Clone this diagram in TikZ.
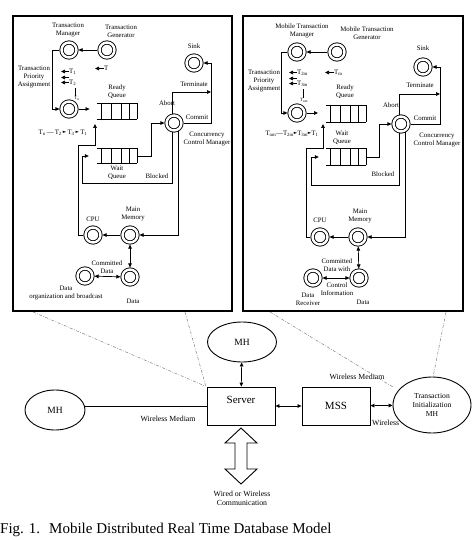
\documentclass[tikz,border=0pt]{standalone}
\usepackage{fontspec}
\setmainfont{Liberation Serif}
\newfontfamily\dvs{DejaVu Sans}
\usetikzlibrary{arrows.meta,calc,shapes.geometric}
\newcommand\mytri{{\dvs\fontsize{4.5}{5}\selectfont\raisebox{0.3pt}{►}}}
\newcommand\qlines[1]{%
  \draw[qline] (#1.north west) -- (#1.north east) -- (#1.south east);
  \draw[qline] (#1.south west) -- (#1.south east);
  \foreach \f in {0.12,0.36,0.6,0.8}{\draw[qline] ($(#1.north west)!\f!(#1.north east)$) -- ($(#1.south west)!\f!(#1.south east)$);}
}
\begin{document}
\begin{tikzpicture}[x=1pt,y=-1pt,
  lbl/.style={font=\fontsize{6.8}{7.8}\selectfont, align=center, inner sep=0},
  tiny/.style={font=\fontsize{4.8}{5}\selectfont, inner sep=0},
  dc/.style={circle, draw, line width=0.9pt, double, double distance=2.4pt, minimum size=15pt, inner sep=0, outer sep=2.1pt},
  qbox/.style={minimum width=40pt, minimum height=15pt, inner sep=0},
  qline/.style={line width=1pt},
  tip/.style={-{Triangle[length=4pt,width=3.6pt]}},
  dtip/.style={{Triangle[length=4pt,width=3.6pt]}-{Triangle[length=4pt,width=3.6pt]}},
  conn/.style={line width=0.7pt, tip},
  panel/.style={draw, line width=1.1pt},
  gline/.style={draw=gray, line width=0.5pt, dash pattern=on 3pt off 1.5pt on 0.7pt off 1.5pt},
  net/.style={font=\fontsize{7.8}{9}\selectfont, inner sep=0, align=center}]
\useasboundingbox (0,0) rectangle (474,540);

% ---------- panels ----------
\draw[panel] (13,16) rectangle (232,311);
\draw[panel] (243,16) rectangle (463,311);

% ================= LEFT PANEL =================
\node[dc] (tm) at (69,50) {};
\node[dc] (tg) at (107,50) {};
\node[dc] (tpa) at (69,109) {};
\node[dc] (ccm) at (174,123) {};
\node[dc] (sink) at (194,63) {};
\node[dc] (cpu) at (93,235) {};
\node[dc] (mm) at (130,235) {};
\node[dc] (data) at (130,277) {};
\node[dc] (dorg) at (85,276) {};
\node[qbox] (rq) at (117,111.5) {};
\node[qbox, minimum height=14pt] (wq) at (117,156) {};
\qlines{rq}
\qlines{wq}

\node[lbl] at (68,30) {Transaction\\Manager};
\node[lbl] at (121,31) {Transaction\\Generator};
\node[lbl] at (34,77) {Transaction\\Priority\\Assignment};
\node[lbl, anchor=west] (t1) at (69,71.5) {T\textsubscript{1}};
\node[lbl, anchor=west] (tx) at (69,76.5) {};
\node[lbl, anchor=west] (t2) at (69,82.5) {T\textsubscript{2}};
\node[lbl, anchor=west] (tt) at (104,68.5) {T};
\node[tiny] (tn) at (77,98) {T\textsubscript{n}};
\node[lbl] at (117,92) {Ready\\Queue};
\node[lbl] at (117,173) {Wait\\Queue};
\node[lbl] at (157,176.5) {Blocked};
\node[lbl] at (167,103) {Abort};
\node[lbl] at (197,117) {Commit};
\node[lbl] at (194,84) {Terminate};
\node[lbl] at (194,46) {Sink};
\node[lbl] at (207,139) {Concurrency\\Control Manager};
\node[lbl] at (93,219) {CPU};
\node[lbl] at (133,214) {Main\\Memory};
\node[lbl] at (107,267) {Committed\\Data};
\node[lbl] at (66,293) {Data\\organization and broadcast};
\node[lbl] at (133,301) {Data};
\node[lbl] at (63,132.5) {T\textsubscript{n}\,---\,T\textsubscript{2}\,\mytri\,T\textsubscript{3}\,\mytri\,T\textsubscript{1}};

\coordinate (rqin) at (95,124);
\coordinate (abortL) at (211,92);
\draw[conn] (tg) -- (tm);
\draw[conn] (tm.west) -- ++(-7,0) |- (tpa.west);
\draw[conn] (tpa.east) -- ++(11,0);
\draw[conn] (t1.west) -- ++(-8,0);
\draw[conn] ([yshift=-1]tx.west) -- ++(-8,0);
\draw[conn] (t2.west) -- ++(-8,0);
\draw[conn] (tt.west) -- ++(-9,0);
\draw[line width=0.6pt] ([xshift=-2]tn.north) -- ++(0,-8);
\draw[conn] (cpu.west) -- (78,235) -- (78,145) -- (95,145) -- (rqin);
\draw[conn] (wq.east) -- (151,156) |- (ccm.west);
\draw[conn] (ccm.-100) -- (ccm.-100 |- 0,183) -| (82,156) -- ([xshift=-8]wq.west);
\draw[conn] (ccm.-60) |- (mm.east);
\draw[conn] (mm) -- (cpu);
\draw[line width=0.7pt, dtip] (mm) -- (data);
\draw[line width=0.7pt, dtip] (dorg) -- (data);
\draw[conn] (ccm.100) |- (abortL);
\draw[conn] (ccm.east) -- (211,123) |- (sink.east);

% ================= RIGHT PANEL =================
\node[dc] (mtm) at (297,52) {};
\node[dc] (mtg) at (337,52) {};
\node[dc] (tpa2) at (297,113) {};
\node[dc] (ccm2) at (401,124) {};
\node[dc] (sink2) at (423,67) {};
\node[dc] (cpu2) at (320,237) {};
\node[dc] (mm2) at (358,237) {};
\node[dc] (data2) at (359,278) {};
\node[dc] (drec) at (313,278) {};
\node[qbox, minimum height=16pt] (rq2) at (346,114) {};
\node[qbox, minimum height=16pt] (wq2) at (346,157) {};
\qlines{rq2}
\qlines{wq2}

\node[lbl] at (302,31) {Mobile Transaction\\Manager};
\node[lbl] at (367,33) {Mobile Transaction\\Generator};
\node[lbl] at (264,81) {Transaction\\Priority\\Assignment};
\node[lbl, anchor=west] (t2m) at (297,72.5) {T\textsubscript{2m}};
\node[lbl, anchor=west] (txm) at (297,77.5) {};
\node[lbl, anchor=west] (t3m) at (297,83.5) {T\textsubscript{3m}};
\node[lbl, anchor=west] (ttm) at (334,72.5) {T\textsubscript{m}};
\node[tiny] (tnm) at (304,100) {T\textsubscript{nm}};
\node[lbl] at (345,92) {Ready\\Queue};
\node[lbl] at (342,137.5) {Wait\\Queue};
\node[lbl] at (383,174) {Blocked};
\node[lbl] at (391,105) {Abort};
\node[lbl] at (425,118) {Commit};
\node[lbl] at (437,140) {Concurrency\\Control Manager};
\node[lbl] at (420,85) {Terminate};
\node[lbl] at (423,48) {Sink};
\node[lbl] at (320,220) {CPU};
\node[lbl] at (360,216) {Main\\Memory};
\node[lbl] at (337,265) {Committed\\Data with};
\node[lbl] at (337,289) {Control\\Information};
\node[lbl] at (308,299) {Data\\Receiver};
\node[lbl] at (363,302) {Data};
\node[lbl] at (292,133.5) {T\textsubscript{nm}---T\textsubscript{2m}\mytri T\textsubscript{3m}\mytri T\textsubscript{1}};

\coordinate (rqin2) at (323,124);
\coordinate (abortR) at (440,94);
\draw[conn] (mtg) -- (mtm);
\draw[conn] (mtm.west) -- (281,52) |- (tpa2.west);
\draw[conn] (tpa2.east) -- (318,113);
\draw[conn] (t2m.west) -- ++(-8,0);
\draw[conn] ([yshift=-1]txm.west) -- ++(-8,0);
\draw[conn] (t3m.west) -- ++(-8,0);
\draw[conn] (ttm.west) -- ++(-9,0);
\draw[line width=0.6pt] ([xshift=-1]tnm.north) -- ++(0,-9);
\draw[conn] (cpu2.west) -- (306,237) -- (306,148) -- (323,148) -- (rqin2);
\draw[conn] (wq2.east) -- (379,157) |- (ccm2.west);
\draw[conn] (ccm2.-100) -- (ccm2.-100 |- 0,185) -| (311,157) -- ([xshift=-7]wq2.west);
\draw[conn] (ccm2.-60) |- (mm2.east);
\draw[conn] (mm2) -- (cpu2);
\draw[line width=0.7pt, dtip] (mm2) -- (data2);
\draw[line width=0.7pt, dtip] (drec) -- (data2);
\draw[conn] (ccm2.100) |- (abortR);
\draw[conn] (ccm2.east) -- (440,124) |- (sink2.east);

% ================= NETWORK =================
\node[draw, ellipse, line width=0.9pt, minimum width=69pt, minimum height=40pt, inner sep=0, font=\fontsize{9.5}{10}\selectfont] (mh1) at (242,342) {MH};
\node[draw, ellipse, line width=0.9pt, minimum width=60pt, minimum height=40pt, inner sep=0, font=\fontsize{9.5}{10}\selectfont] (mh2) at (55,410) {MH};
\node[draw, line width=0.9pt, minimum width=68pt, minimum height=38pt, inner sep=0, font=\fontsize{11}{12}\selectfont] (server) at (241,406) {};
\node[font=\fontsize{11}{12}\selectfont] at (241,400) {Server};
\node[draw, line width=0.9pt, minimum width=68pt, minimum height=38pt, inner sep=0, font=\fontsize{11}{12}\selectfont] (mss) at (336,406) {MSS};
\node[draw, ellipse, line width=0.9pt, minimum width=78pt, minimum height=56pt, inner sep=0, align=center, font=\fontsize{7.6}{9}\selectfont] (timh) at (432,405) {Transaction\\Initialization\\MH};

\draw[line width=0.7pt, dtip] (mh1) -- (server);
\draw[line width=0.7pt, dtip] (server) -- (mss);
\draw[line width=0.7pt, dtip] (mss) -- (timh);
\draw[line width=0.7pt] (mh2.east |- 0,406) -- (server.west |- 0,406);

\node[net] at (168,419) {Wireless Mediam};
\node[net] at (357,377) {Wireless Mediam};
\node[net, anchor=west] at (372,423) {Wireless};

% block double arrow
\draw[line width=0.9pt] (241,428) -- (257,443) -- (247,443) -- (247,469) -- (257,469) -- (241,484) -- (225,469) -- (235,469) -- (235,443) -- (225,443) -- cycle;
\node[net] at (242,498.5) {Wired or Wireless\\Communication};

% dashed guide lines
\draw[gline] (33,312) -- (205,386);
\draw[gline] (185,312) -- (206,387);
\draw[gline] (270,312) -- (393,387);
\draw[gline] (446,312) -- (433,377);

% caption
\node[anchor=base west, inner sep=0, font=\fontsize{15}{16}\selectfont] at (0,533) {Fig. 1.};
\node[anchor=base west, inner sep=0, font=\fontsize{15}{16}\selectfont] at (49,533) {Mobile Distributed Real Time Database Model};
\end{tikzpicture}
\end{document}
